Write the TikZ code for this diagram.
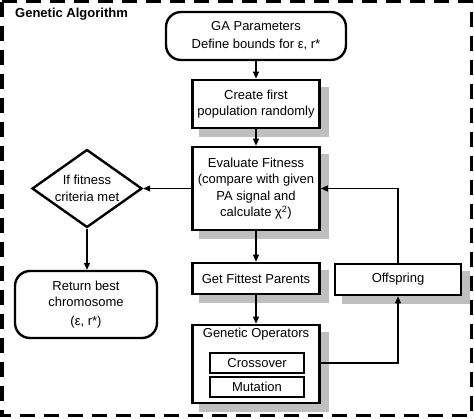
\documentclass[tikz,border=0pt]{standalone}
\usepackage{fontspec}
\setmainfont{Liberation Sans}
\usetikzlibrary{shapes, positioning, backgrounds, arrows.meta}

\tikzset{
	proc/.style={draw, line width=2.6pt, fill=white, minimum width=127pt, align=center, inner sep=0pt},
	term/.style={draw, line width=2.4pt, rounded corners=15pt, fill=white, align=center, inner sep=0pt},
	sub/.style={draw, line width=2.4pt, minimum width=94pt, minimum height=20pt, inner sep=0pt},
	flow/.style={line width=1.2pt, -{Triangle[length=7pt, width=6pt]}}
}

\begin{document}
\begin{tikzpicture}[x=1pt, y=-1pt, font=\fontsize{13}{16.5}\selectfont]
			\useasboundingbox (0,0) rectangle (474,418);
			\draw[line width=3.2pt, dash pattern=on 15pt off 9pt] (2,1.5) rectangle (471.5,415.5);
			\node[anchor=west, inner sep=0pt, font=\fontsize{13}{16}\selectfont\bfseries] (T) at (15,14) {Genetic Algorithm};
			
			\node[term, minimum width=180pt, minimum height=48pt] (P) at (256,36) {GA Parameters\\[2pt] Define bounds for ε, r*};
			\node[proc, minimum height=48pt] (C) at (256,104) {Create first\\population randomly};
			\node[proc, minimum height=83pt] (E) at (256,188.5) {Evaluate Fitness\\(compare with given\\PA signal and\\calculate χ\textsuperscript{2})};
			\node[proc, minimum height=31pt] (F) at (256,278.5) {Get Fittest Parents};
			\node[proc, minimum height=78pt] (G) at (256,364) {};
			\node[below=1pt of G.north] (L) {Genetic Operators};
			\node[sub] (X) at (257,363) {Crossover};
			\node[sub] (M) at (257,387) {Mutation};
			\node[proc, minimum width=126pt, minimum height=31pt] (O) at (398,279.5) {Offspring};
			
			\node[draw, diamond, line width=2.4pt, aspect=1.4, minimum width=110pt, minimum height=78pt, inner sep=0pt, align=center] (D) at (87,188.5) {If fitness\\criteria met};
			\node[term, minimum width=142pt, minimum height=67pt] (R) at (86,304.5) {Return best\\chromosome\\[2pt](ε, r*)};
			
			\begin{scope}[on background layer]
				\foreach \n in {C, E, F, G, O}
					\fill[black!25] ([shift={(8,8)}]\n.north west) rectangle ([shift={(8,8)}]\n.south east);
			\end{scope}
			
			\draw[flow] (P) -- (C);
			\draw[flow] (C) -- (E);
			\draw[flow] (E) -- (F);
			\draw[flow] (F) -- (G);
			\draw[flow] (E.west) -- (D.east);
			\draw[flow] (D.south) -- (D.south |- R.north);
			\draw[flow] (G.east |- X) -| (O);
			\draw[flow] (O) |- (E);
		\end{tikzpicture}
\end{document}
